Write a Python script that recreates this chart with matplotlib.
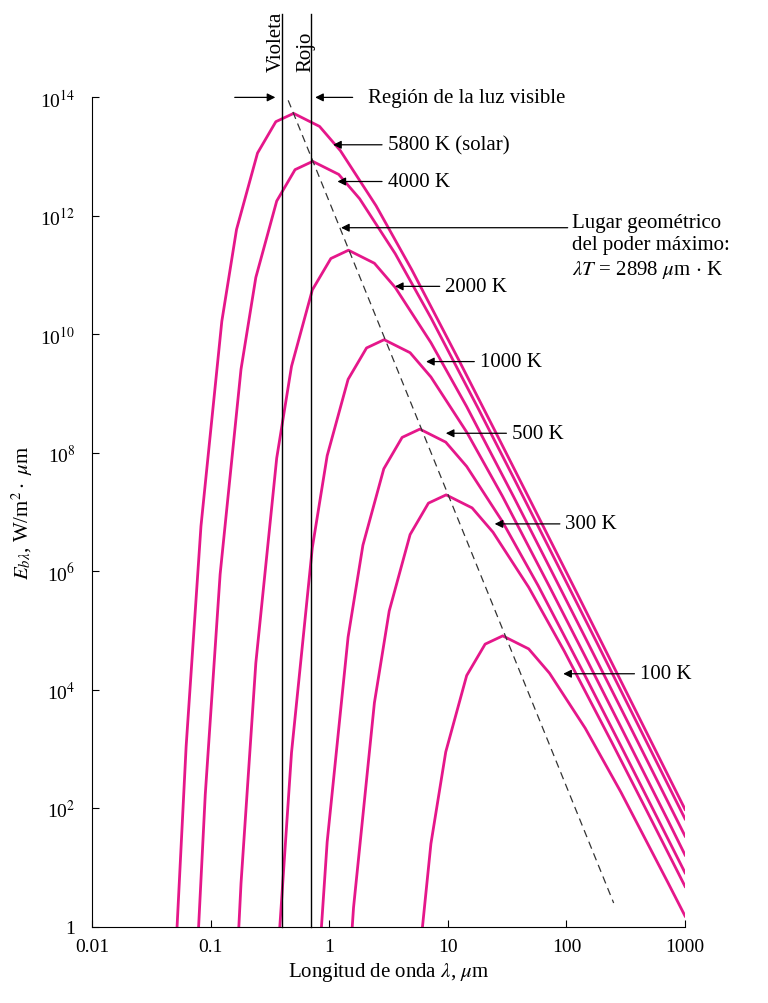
import matplotlib
matplotlib.use('Agg')
import matplotlib.pyplot as plt
import numpy as np

plt.rcParams['font.family'] = 'Liberation Serif'
plt.rcParams['mathtext.fontset'] = 'stix'

PINK = '#E5178A'

# wavelength (um) and log10(E_b,lambda)
lam_5800 = [0.0496, 0.062, 0.0827, 0.124, 0.165, 0.248, 0.354, 0.50, 0.827, 1.24, 2.48, 4.96, 12.4, 24.8, 49.6, 124, 1000]
log_5800 = [-0.82, 3.04, 6.76, 10.22, 11.77, 13.06, 13.59, 13.73, 13.51, 13.10, 12.17, 11.09, 9.56, 8.38, 7.19, 5.61, 1.98]
lam_4000 = [0.0719, 0.0899, 0.120, 0.180, 0.240, 0.360, 0.514, 0.724, 1.20, 1.80, 3.60, 7.19, 18.0, 36.0, 71.9, 180, 1000]
log_4000 = [-1.63, 2.23, 5.95, 9.41, 10.96, 12.25, 12.78, 12.92, 12.70, 12.29, 11.36, 10.28, 8.75, 7.57, 6.38, 4.80, 1.82]
lam_2000 = [0.144, 0.180, 0.240, 0.360, 0.480, 0.719, 1.03, 1.45, 2.40, 3.60, 7.19, 14.4, 36.0, 71.9, 144, 360, 1000]
log_2000 = [-3.13, 0.73, 4.45, 7.91, 9.46, 10.75, 11.28, 11.42, 11.20, 10.79, 9.86, 8.78, 7.25, 6.07, 4.88, 3.30, 1.53]
lam_1000 = [0.288, 0.360, 0.480, 0.719, 0.959, 1.44, 2.06, 2.90, 4.80, 7.19, 14.4, 28.8, 71.9, 144, 288, 719, 1000]
log_1000 = [-4.64, -0.78, 2.94, 6.40, 7.95, 9.24, 9.77, 9.91, 9.69, 9.28, 8.35, 7.27, 5.74, 4.56, 3.37, 1.79, 1.21]
lam_500 = [0.576, 0.719, 0.959, 1.44, 1.92, 2.88, 4.11, 5.80, 9.59, 14.4, 28.8, 57.6, 144, 288, 576, 1000]
log_500 = [-6.15, -2.29, 1.43, 4.89, 6.44, 7.73, 8.26, 8.40, 8.18, 7.77, 6.84, 5.76, 4.23, 3.05, 1.86, 0.91]
lam_300 = [0.959, 1.20, 1.60, 2.40, 3.20, 4.80, 6.85, 9.66, 16.0, 24.0, 48.0, 95.9, 240, 480, 1000]
log_300 = [-7.26, -3.40, 0.32, 3.78, 5.33, 6.62, 7.15, 7.29, 7.07, 6.66, 5.73, 4.65, 3.12, 1.94, 0.68]
lam_100 = [2.88, 3.60, 4.80, 7.19, 9.59, 14.4, 20.6, 29.0, 48.0, 71.9, 144, 288, 719, 1000]
log_100 = [-9.64, -5.78, -2.06, 1.40, 2.95, 4.24, 4.77, 4.91, 4.69, 4.28, 3.35, 2.27, 0.74, 0.18]

curves = [(lam_5800, log_5800), (lam_4000, log_4000), (lam_2000, log_2000),
          (lam_1000, log_1000), (lam_500, log_500), (lam_300, log_300), (lam_100, log_100)]

# locus of maximum power (dashed)
lam_max = [0.45, 250]
log_max = [13.95, 0.4]

x_ticks = [0.01, 0.1, 1, 10, 100, 1000]
x_labels = ['0.01', '0.1', '1', '10', '100', '1000']
y_ticks = [1, 1e2, 1e4, 1e6, 1e8, 1e10, 1e12, 1e14]
y_labels = ['1', '10$^{2}$', '10$^{4}$', '10$^{6}$', '10$^{8}$', '10$^{10}$', '10$^{12}$', '10$^{14}$']

fig = plt.figure(figsize=(7.68, 10.04), dpi=100)
ax = fig.add_axes([0.12, 0.076, 0.772, 0.826])

for lam, lg in curves:
    ax.plot(lam, 10 ** np.array(lg), color=PINK, lw=2, solid_joinstyle='round')
ax.plot(lam_max, 10 ** np.array(log_max), color='#333333', lw=0.9, ls=(0, (6, 4)))

ax.set_xscale('log')
ax.set_yscale('log')
ax.set_xlim(0.01, 1000)
ax.set_ylim(1, 1e14)
ax.set_xticks(x_ticks)
ax.set_xticklabels(x_labels, fontsize=14)
ax.set_yticks(y_ticks)
ax.set_yticklabels(y_labels, fontsize=14)
ax.minorticks_off()
ax.tick_params(direction='in', length=5, width=0.8)
ax.tick_params(axis='y', pad=12)
ax.tick_params(axis='x', pad=8)
for s in ['top', 'right']:
    ax.spines[s].set_visible(False)

ax.set_xlabel(r'Longitud de onda $\lambda$, $\mu$m', fontsize=15)
ax.set_ylabel(r'$E_{b\lambda}$, W/m$^2\cdot$ $\mu$m', fontsize=15)

# visible region lines
for xv, name in [(0.40, 'Violeta'), (0.70, 'Rojo')]:
    ax.plot([xv, xv], [1, 10 ** 15.4], color='black', lw=1, clip_on=False)
    ax.text(xv * 0.9, 10 ** 14.45, name, rotation=90, ha='center', va='bottom', fontsize=15)

ap = dict(arrowstyle='-|>', color='black', lw=0.9, mutation_scale=12)
ax.annotate('', xy=(0.37, 1e14), xytext=(0.151, 1e14), arrowprops=ap, annotation_clip=False)
ax.annotate('', xy=(0.72, 1e14), xytext=(1.66, 1e14), arrowprops=ap, annotation_clip=False)
ax.text(2.1, 1e14, 'Región de la luz visible', fontsize=15, va='center', ha='left')

labels = [
    ('5800 K (solar)', 3.1, 13.2, 1.02),
    ('4000 K', 3.1, 12.58, 1.11),
    ('2000 K', 9.5, 10.81, 3.39),
    ('1000 K', 18.6, 9.54, 6.2),
    ('500 K', 34.7, 8.33, 9.1),
    ('300 K', 98, 6.80, 23.5),
    ('100 K', 417, 4.27, 89),
]
for txt, xt, ly, xtip in labels:
    ax.annotate(txt, xy=(xtip, 10 ** ly), xytext=(xt, 10 ** ly), fontsize=15,
                va='center', ha='left', arrowprops=ap, annotation_clip=False)

ax.annotate('', xy=(1.19, 10 ** 11.8), xytext=(108, 10 ** 11.8),
            arrowprops=ap, annotation_clip=False)
ax.text(112, 10 ** 12.05, 'Lugar geométrico\ndel poder máximo:\n' + r'$\lambda T$ = 2898 $\mu$m $\cdot$ K',
        fontsize=15, va='top', ha='left', linespacing=1.25)

fig.savefig('out.png', dpi=100, facecolor='white')
